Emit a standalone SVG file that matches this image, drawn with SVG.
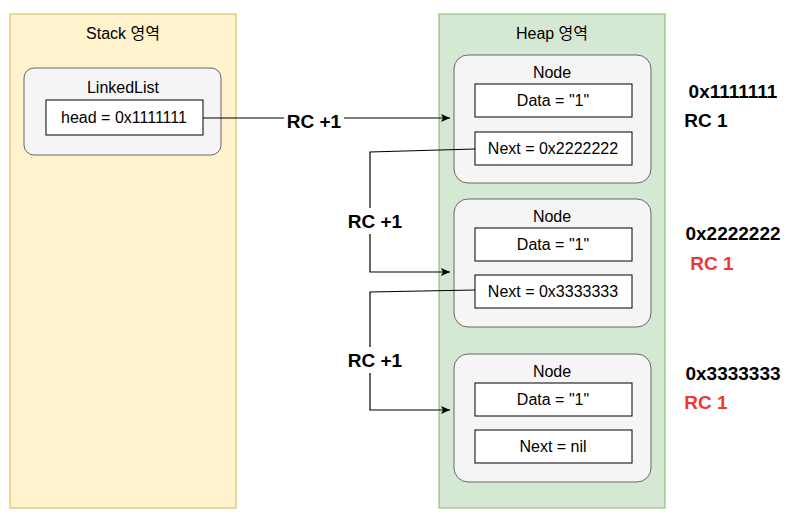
<svg xmlns="http://www.w3.org/2000/svg" width="800" height="520" viewBox="0 0 800 520">
<style>
text{font-family:"Liberation Sans",Arial,"Noto Sans CJK KR",sans-serif;text-anchor:middle}
.t{font-size:16px}
.b{font-size:19px;font-weight:bold}
.node{fill:#f5f5f5;stroke:#666;stroke-width:1}
.box{fill:#fff;stroke:#000;stroke-width:1}
.c{fill:none;stroke:#000;stroke-width:1.2}
.red{fill:#ea3a33}
</style>
<defs><marker id="a" markerWidth="10" markerHeight="10" refX="9" refY="5" orient="auto" markerUnits="userSpaceOnUse"><path d="M0,1 L9,5 L0,9 L2,5 Z" fill="#000"/></marker></defs>
<g id="stack"><rect x="10" y="14" width="226" height="494" fill="#fff2cc" stroke="#d6b656"/><text class="t" x="123" y="39">Stack 영역</text></g>
<g id="heap"><rect x="439" y="14" width="226" height="494" fill="#d5e8d4" stroke="#82b366"/><text class="t" x="552" y="39">Heap 영역</text></g>
<g id="linkedlist"><rect class="node" x="24" y="68" width="197" height="87" rx="10"/><text class="t" x="123" y="93">LinkedList</text><rect class="box" x="46" y="100" width="157" height="35"/><text class="t" x="124" y="123">head = 0x1111111</text></g>
<g id="node1"><rect class="node" x="454" y="55" width="197" height="128" rx="14"/><text class="t" x="552" y="78">Node</text><rect class="box" x="475" y="84" width="157" height="33"/><text class="t" x="553" y="106">Data = "1"</text><rect class="box" x="475" y="132" width="157" height="33"/><text class="t" x="553" y="154">Next = 0x2222222</text></g>
<g id="node2"><rect class="node" x="454" y="199" width="197" height="128" rx="14"/><text class="t" x="552" y="222">Node</text><rect class="box" x="475" y="228" width="157" height="33"/><text class="t" x="553" y="250">Data = "1"</text><rect class="box" x="475" y="275" width="157" height="33"/><text class="t" x="553" y="297">Next = 0x3333333</text></g>
<g id="node3"><rect class="node" x="454" y="354" width="197" height="128" rx="14"/><text class="t" x="552" y="377">Node</text><rect class="box" x="475" y="383" width="157" height="33"/><text class="t" x="553" y="405">Data = "1"</text><rect class="box" x="475" y="430" width="157" height="33"/><text class="t" x="553" y="452">Next = nil</text></g>
<g id="connectors">
<path class="c" d="M203,118 L450,118" marker-end="url(#a)"/>
<rect x="284" y="106" width="60" height="24" fill="#fff"/><text class="b" x="314" y="128">RC +1</text>
<path class="c" d="M475,149 L370,152 L370,272 L450,272" marker-end="url(#a)"/>
<rect x="342" y="208" width="66" height="26" fill="#fff"/><text class="b" x="375" y="228">RC +1</text>
<path class="c" d="M475,290 L370,292 L370,410 L450,410" marker-end="url(#a)"/>
<rect x="342" y="347" width="66" height="26" fill="#fff"/><text class="b" x="375" y="367">RC +1</text>
</g>
<g id="labels">
<text class="b" x="733" y="98">0x1111111</text><text class="b" x="706" y="127">RC 1</text>
<text class="b" x="733" y="240">0x2222222</text><text class="b red" x="712" y="270">RC 1</text>
<text class="b" x="733" y="380">0x3333333</text><text class="b red" x="706" y="409">RC 1</text>
</g>
</svg>
